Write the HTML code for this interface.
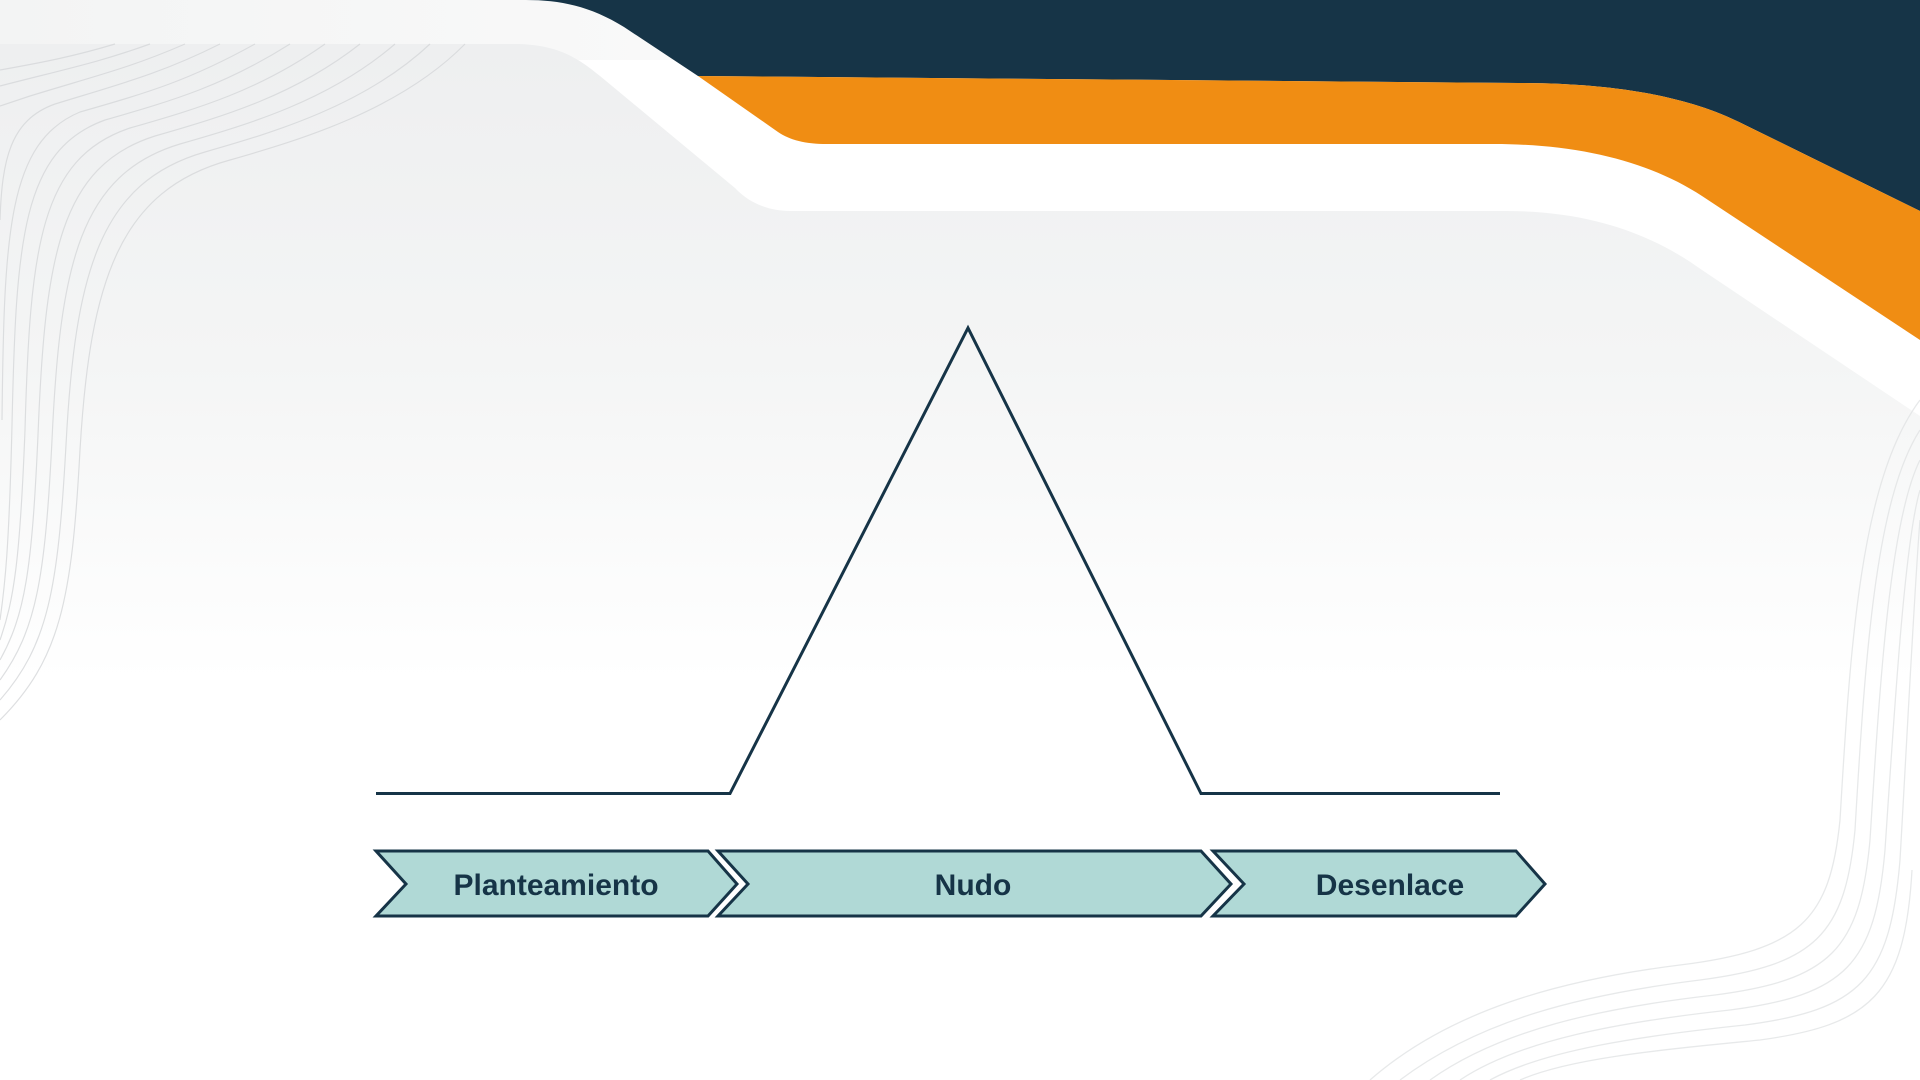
<!DOCTYPE html>
<html><head><meta charset="utf-8"><style>
html,body{margin:0;padding:0;width:1920px;height:1080px;overflow:hidden;background:#fff}
svg{display:block}
</style></head><body>
<svg width="1920" height="1080" viewBox="0 0 1920 1080" xmlns="http://www.w3.org/2000/svg">
<defs>
<linearGradient id="g" gradientUnits="userSpaceOnUse" x1="0" y1="44" x2="0" y2="680">
<stop offset="0" stop-color="#eeeff0"/><stop offset="0.5" stop-color="#f4f5f5"/><stop offset="1" stop-color="#ffffff"/>
</linearGradient>
<linearGradient id="w" x1="0" y1="0" x2="1" y2="0">
<stop offset="0" stop-color="#f3f4f4"/><stop offset="0.4" stop-color="#fafafa"/><stop offset="1" stop-color="#ffffff"/>
</linearGradient>
</defs>
<rect width="1920" height="1080" fill="#fff"/>
<rect width="1920" height="60" fill="url(#w)"/>
<path d="M0,44 L514,44 C560,44 580,60 600,76 L735,188 C750,204 770,211 790,211 L1506,211 C1600,211 1660,240 1702,270 L1920,416 L1920,1080 L0,1080 Z" fill="url(#g)"/>
<path d="M526,0 L1920,0 L1920,211 L1739,122 C1690,98 1620,83 1518,83 L698,76 L624,27 C590,6 560,0 526,0 Z" fill="#163447"/>
<path d="M698,76 L1518,83 C1620,83 1690,98 1739,122 L1920,211 L1920,340 L1702,196 C1650,162 1580,144 1494,144 L827,144 C805,144 790,140 778,132 Z" fill="#f08d13"/>
<!-- wavy lines left -->
<g fill="none" stroke="#d6d8da" stroke-width="1.2" opacity="0.8">
<path d="M465,44 C400,110 300,140 230,160 C120,190 90,280 80,450 C72,600 60,660 0,720"/>
<path d="M430,44 C365,105 275,132 205,152 C100,182 75,272 66,445 C58,590 48,645 0,700"/>
<path d="M395,44 C330,100 250,124 180,144 C80,174 60,264 52,440 C45,580 36,630 0,680"/>
<path d="M360,44 C295,95 225,116 155,136 C60,166 45,256 38,435 C32,570 25,615 0,660"/>
<path d="M325,44 C260,90 200,108 130,128 C40,158 30,248 25,430 C20,560 14,600 0,640"/>
<path d="M290,44 C225,85 175,100 105,120 C22,150 16,240 12,425 C9,550 5,585 0,620"/>
<path d="M255,44 C190,80 150,92 80,112 C8,142 4,232 2,420"/>
<path d="M220,44 C160,74 120,84 55,104 C10,120 2,160 0,220"/>
<path d="M185,44 C130,68 95,76 30,96 L0,106"/>
<path d="M150,44 C100,62 70,68 0,86"/>
<path d="M115,44 C75,56 45,62 0,70"/>
</g>
<!-- wavy lines bottom right -->
<g fill="none" stroke="#e2e4e5" stroke-width="1.3" opacity="0.8">
<path d="M1370,1080 C1450,1010 1560,980 1680,965 C1800,950 1830,920 1840,820 C1850,650 1860,480 1920,400"/>
<path d="M1400,1080 C1480,1020 1580,995 1700,980 C1815,965 1845,935 1855,830 C1865,660 1875,500 1920,430"/>
<path d="M1430,1080 C1500,1030 1600,1008 1715,995 C1830,980 1860,950 1870,840 C1880,680 1890,520 1920,460"/>
<path d="M1460,1080 C1520,1040 1620,1022 1730,1010 C1845,995 1875,965 1885,850 C1895,700 1905,540 1920,490"/>
<path d="M1490,1080 C1545,1050 1640,1036 1745,1025 C1860,1010 1890,980 1900,860 C1908,720 1915,580 1920,520"/>
<path d="M1520,1080 C1570,1058 1660,1050 1760,1040 C1870,1025 1905,995 1912,870"/>
</g>
<polyline points="376,793.5 730,793.5 968,328 1201,793.5 1500,793.5" fill="none" stroke="#163447" stroke-width="3" stroke-linejoin="miter"/>
<g fill="#b0d9d6" stroke="#163447" stroke-width="3" stroke-linejoin="miter">
<polygon points="376,851 708,851 737,884 708,916 376,916 406,884"/>
<polygon points="718,851 1201,851 1231,884 1201,916 718,916 748,884"/>
<polygon points="1213,851 1516,851 1545,884 1516,916 1213,916 1244,884"/>
</g>
<g font-family="Liberation Sans, sans-serif" font-weight="bold" font-size="30" fill="#163447" text-anchor="middle">
<text x="556" y="895">Planteamiento</text>
<text x="973" y="895">Nudo</text>
<text x="1390" y="895">Desenlace</text>
</g>
</svg>
</body></html>
